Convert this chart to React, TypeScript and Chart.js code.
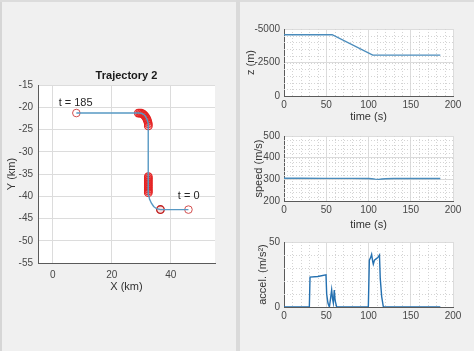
import React, { useEffect, useRef } from 'react';
import { Chart, registerables } from 'chart.js';
Chart.register(...registerables);

const FONT = "'Liberation Sans', Arial, Helvetica, sans-serif";
const TICK = '#474747';
const LAB = '#333333';
const GRID = '#dcdcdc';
const AXIS = '#5a5a5a';

// ---------- Trajectory (left) ----------
const trajX = [46, 36.5, 35.2, 34.2, 33.4, 32.8, 32.5, 32.4, 32.4, 32.3, 32.0, 31.5, 30.8, 30.0, 29.2, 8];
const trajY = [-43, -43, -42.8, -42.3, -41.5, -40.6, -39.7, -39.0, -24.5, -23.6, -22.8, -22.1, -21.6, -21.35, -21.3, -21.3];
const detTopX = [29.0, 29.5, 30.0, 30.5, 30.9, 31.3, 31.7, 32.0, 32.2, 32.4, 32.4];
const detTopY = [-21.3, -21.3, -21.35, -21.5, -21.7, -22.0, -22.4, -22.8, -23.2, -23.7, -24.2];
const detMidX = [32.4, 32.4, 32.4, 32.4, 32.4, 32.4, 32.4, 32.4, 32.4, 32.4];
const detMidY = [-35.6, -36.0, -36.4, -36.8, -37.2, -37.6, -38.0, -38.4, -38.8, -39.2];
const detLowX = [36.5];
const detLowY = [-43];
const endX = [8, 46];
const endY = [-21.3, -43];
const noteText = ['t = 185', 't = 0'];
const noteX = [2, 42.4];
const noteY = [-19.1, -40];
const trajXTicks = [0, 20, 40];
const trajYTicks = [-55, -50, -45, -40, -35, -30, -25, -20, -15];

// ---------- Right panels ----------
const timeTicks = [0, 50, 100, 150, 200];
const zT = [0, 57, 105, 185];
const zV = [-4572, -4572, -3048, -3048];
const zTicks = [-5000, -2500, 0];
const speedT = [0, 20, 50, 80, 100, 104, 108, 112, 116, 120, 130, 160, 185];
const speedV = [305, 305, 304.5, 304.5, 304, 303, 301, 300, 301.5, 303, 304, 304, 304];
const speedTicks = [200, 300, 400, 500];
const accT = [0, 30, 30.8, 40, 49.7, 50.5, 52, 53.7, 55, 56.4, 57.5, 58.4, 59.5, 60.5, 62.3, 99.8, 101, 102.5, 103.7, 105, 105.7, 107, 109, 111, 113, 113.9, 115.6, 117.6, 185];
const accV = [0, 0, 23, 23.5, 24.8, 10, 3, 0, 6, 13.3, 6, 3, 13, 5, 0, 0, 36, 38, 40.5, 35, 33, 36, 37, 38, 40, 22, 8, 0, 0];
const accTicks = [0, 50];

const pts = (xs: number[], ys: number[]) => xs.map((x, i) => ({ x, y: ys[i] }));

const whiteArea = {
  id: 'whiteArea',
  beforeDraw(chart: any) {
    const { ctx, chartArea: a } = chart;
    ctx.save();
    ctx.fillStyle = '#ffffff';
    ctx.fillRect(a.left, a.top, a.width, a.height);
    ctx.restore();
  },
};

const makeMinorGrid = (xStep: number, yStep: number) => ({
  id: 'minorGrid',
  beforeDatasetsDraw(chart: any) {
    const { ctx, chartArea: a, scales } = chart;
    ctx.save();
    ctx.strokeStyle = '#d4d4d4';
    ctx.lineWidth = 1;
    ctx.setLineDash([1, 2]);
    const sx = scales.x;
    for (let v = sx.min + xStep; v < sx.max - 1e-9; v += xStep) {
      if (Math.abs(v % 50) < 1e-9) continue;
      const p = Math.round(sx.getPixelForValue(v)) + 0.5;
      ctx.beginPath();
      ctx.moveTo(p, a.top);
      ctx.lineTo(p, a.bottom);
      ctx.stroke();
    }
    const sy = scales.y;
    for (let v = sy.min + yStep; v < sy.max - 1e-9; v += yStep) {
      const p = Math.round(sy.getPixelForValue(v)) + 0.5;
      ctx.beginPath();
      ctx.moveTo(a.left, p);
      ctx.lineTo(a.right, p);
      ctx.stroke();
    }
    ctx.restore();
  },
});

const makeTexts = (title: string | null, texts: string[], xs: number[], ys: number[]) => ({
  id: 'texts',
  afterDatasetsDraw(chart: any) {
    const { ctx, chartArea: a, scales } = chart;
    ctx.save();
    ctx.textBaseline = 'middle';
    if (title) {
      ctx.font = `bold 11px ${FONT}`;
      ctx.fillStyle = '#1a1a1a';
      ctx.textAlign = 'center';
      ctx.fillText(title, (a.left + a.right) / 2, a.top - 9);
    }
    ctx.font = `11px ${FONT}`;
    ctx.fillStyle = '#262626';
    ctx.textAlign = 'left';
    texts.forEach((t, i) => {
      ctx.fillText(t, scales.x.getPixelForValue(xs[i]), scales.y.getPixelForValue(ys[i]));
    });
    ctx.restore();
  },
});

function axis(o: any) {
  const horiz = o.pos === 'bottom';
  return {
    type: 'linear',
    position: o.pos,
    min: o.min,
    max: o.max,
    reverse: !!o.reverse,
    afterBuildTicks: (s: any) => {
      s.ticks = o.ticks.map((v: number) => ({ value: v }));
    },
    afterFit: (s: any) => {
      if (horiz) s.height = o.size;
      else s.width = o.size;
    },
    ticks: {
      padding: o.tickPad,
      color: TICK,
      font: { size: 10, family: FONT },
      callback: (v: any) => String(v),
      maxRotation: 0,
      autoSkip: false,
    },
    grid: { color: GRID, drawTicks: false, lineWidth: 1 },
    border: { display: true, color: AXIS, width: 1 },
    title: o.title
      ? {
          display: true,
          text: o.title,
          color: LAB,
          font: { size: 11, family: FONT },
          padding: horiz ? { top: 0, bottom: o.titlePad } : { top: o.titlePad, bottom: 0 },
        }
      : { display: false },
  };
}

function lineDs(xs: number[], ys: number[], color: string) {
  return {
    data: pts(xs, ys),
    showLine: true,
    borderColor: color,
    borderWidth: 1.4,
    pointRadius: 0,
    fill: false,
    tension: 0,
  };
}

function trajConfig(): any {
  return {
    type: 'scatter',
    data: {
      datasets: [
        lineDs(trajX, trajY, '#5799c4'),
        {
          data: pts(detTopX, detTopY),
          pointRadius: 3.8,
          pointBorderWidth: 1.2,
          pointBorderColor: '#e42424',
          pointBackgroundColor: 'rgba(235,50,50,0.3)',
        },
        {
          data: pts(detMidX, detMidY),
          pointRadius: 3.8,
          pointBorderWidth: 1.2,
          pointBorderColor: '#e42424',
          pointBackgroundColor: 'rgba(235,50,50,0.3)',
        },
        {
          data: pts(detLowX, detLowY),
          pointRadius: 3.8,
          pointBorderWidth: 1.4,
          pointBorderColor: '#c01c1c',
          pointBackgroundColor: 'rgba(200,40,40,0.15)',
        },
        {
          data: pts(endX, endY),
          pointRadius: 3.8,
          pointBorderWidth: 1,
          pointBorderColor: '#d45050',
          pointBackgroundColor: 'rgba(0,0,0,0)',
        },
      ],
    },
    options: {
      responsive: false,
      animation: false,
      devicePixelRatio: 1,
      layout: { padding: { left: 0, right: 21, top: 85, bottom: 52 } },
      plugins: { legend: { display: false }, tooltip: { enabled: false } },
      scales: {
        x: axis({ pos: 'bottom', min: -5, max: 55, ticks: trajXTicks, size: 36, tickPad: 6, title: 'X (km)', titlePad: 5.4 }),
        y: axis({ pos: 'left', min: -55, max: -15, ticks: trajYTicks, size: 38, tickPad: 5, title: 'Y (km)', titlePad: 5.4 }),
      },
    },
    plugins: [whiteArea, makeTexts('Trajectory 2', noteText, noteX, noteY)],
  };
}

function panelConfig(p: any): any {
  return {
    type: 'scatter',
    data: { datasets: [lineDs(p.xs, p.ys, p.color)] },
    options: {
      responsive: false,
      animation: false,
      devicePixelRatio: 1,
      layout: { padding: { left: 0, right: 21, top: p.top, bottom: p.bottom } },
      plugins: { legend: { display: false }, tooltip: { enabled: false } },
      scales: {
        x: axis({ pos: 'bottom', min: 0, max: 200, ticks: timeTicks, size: p.xSize, tickPad: 3.5, title: p.xTitle, titlePad: p.xTitlePad }),
        y: axis({ pos: 'left', min: p.ymin, max: p.ymax, ticks: p.yticks, reverse: p.reverse, size: 44, tickPad: 4, title: p.yTitle, titlePad: p.yTitlePad }),
      },
    },
    plugins: [whiteArea, makeMinorGrid(10, p.yMinor)],
  };
}

function ChartCanvas({ config, left, top, width, height }: any) {
  const ref = useRef<HTMLCanvasElement | null>(null);
  useEffect(() => {
    if (!ref.current) return;
    const chart = new Chart(ref.current, config());
    return () => chart.destroy();
  }, []);
  return (
    <canvas
      ref={ref}
      width={width}
      height={height}
      style={{ position: 'absolute', left, top, width, height }}
    />
  );
}

export default function App() {
  return (
    <div
      style={{
        position: 'fixed',
        left: 0,
        top: 0,
        width: 474,
        height: 351,
        background: '#f0f0f0',
        overflow: 'hidden',
      }}
    >
      <div style={{ position: 'absolute', left: 0, top: 0, width: 2, height: 351, background: '#d6d6d6' }} />
      <div style={{ position: 'absolute', left: 0, top: 0, width: 474, height: 2, background: '#dcdcdc' }} />
      <div style={{ position: 'absolute', left: 236, top: 0, width: 4, height: 351, background: '#dadada' }} />
      <ChartCanvas config={trajConfig} left={0} top={0} width={236} height={351} />
      <ChartCanvas
        config={() =>
          panelConfig({
            xs: zT, ys: zV, color: '#4a8cbc', top: 29, bottom: 225, xSize: 30, xTitle: 'time (s)', xTitlePad: 2.4,
            ymin: -5000, ymax: 0, yticks: zTicks, reverse: true, yTitle: 'z (m)', yTitlePad: 4.4, yMinor: 500,
          })
        }
        left={240} top={0} width={234} height={351}
      />
      <ChartCanvas
        config={() =>
          panelConfig({
            xs: speedT, ys: speedV, color: '#4a8cbc', top: 136, bottom: 118, xSize: 32, xTitle: 'time (s)', xTitlePad: 1.4,
            ymin: 200, ymax: 500, yticks: speedTicks, reverse: false, yTitle: 'speed (m/s)', yTitlePad: 12.4, yMinor: 20,
          })
        }
        left={240} top={0} width={234} height={351}
      />
      <ChartCanvas
        config={() =>
          panelConfig({
            xs: accT, ys: accV, color: '#2470b0', top: 242, bottom: 14, xSize: 30, xTitle: null, xTitlePad: 0,
            ymin: 0, ymax: 50, yticks: accTicks, reverse: false, yTitle: 'accel. (m/s²)', yTitlePad: 16.4, yMinor: 10,
          })
        }
        left={240} top={0} width={234} height={351}
      />
    </div>
  );
}
